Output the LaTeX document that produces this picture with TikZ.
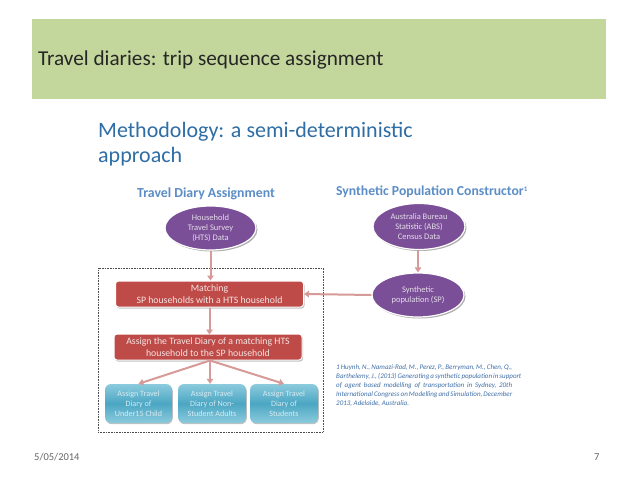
\documentclass[tikz,border=0pt]{standalone}
\usepackage{fontspec}
\setmainfont{Carlito}
\usetikzlibrary{shapes.geometric,arrows.meta,shadows}
\definecolor{hdr}{HTML}{C3D69B}
\definecolor{ttl}{HTML}{2F6EA5}
\definecolor{sub}{HTML}{5B8DC6}
\definecolor{purp}{HTML}{7B4F97}
\definecolor{redb}{HTML}{BE4B48}
\definecolor{arr}{HTML}{D69B98}
\definecolor{cite}{HTML}{3F6FA8}
\definecolor{bluemid}{HTML}{4BA6C3}
\definecolor{blueedge}{HTML}{8CCBDD}
\tikzset{
 x=1pt,y=-1pt,
 oval/.style={ellipse,draw=white,line width=1.2pt,fill=purp,text=white!80!purp,inner sep=0pt,
   minimum width=#1,font=\fontsize{8.5}{10.3}\selectfont,align=center,
   drop shadow={shadow xshift=1.5pt,shadow yshift=-1.5pt,fill=black!45,opacity=.7}},
 redbox/.style={rounded corners=3pt,draw=white,line width=1pt,fill=redb,text=white!85!redb,
   minimum width=188pt,minimum height=26pt,inner sep=0pt,align=center,font=\fontsize{9.8}{11.6}\selectfont,
   drop shadow={shadow xshift=1pt,shadow yshift=-1.5pt,fill=black!35,opacity=.7}},
 bluebox/.style={rounded corners=6pt,top color=blueedge,bottom color=blueedge,middle color=bluemid,
   minimum width=#1,minimum height=39pt,inner sep=0pt,align=center,text=white!78!bluemid,font=\fontsize{8.1}{10.2}\selectfont,
   drop shadow={shadow xshift=.8pt,shadow yshift=-1.2pt,fill=black!35,opacity=.7}},
 link/.style={draw=arr,line width=2pt,-{Triangle[length=5pt,width=6.5pt]}},
 plain/.style={inner sep=0pt,anchor=west},
 citeline/.style={inner sep=0pt,anchor=west,text=cite,font=\fontsize{7}{9}\selectfont\itshape},
}
\begin{document}
\begin{tikzpicture}
\useasboundingbox (0,0) rectangle (638,479);
\fill[white] (0,0) rectangle (638,479);
\node[fill=hdr,minimum width=574pt,minimum height=80pt,inner sep=0pt] (header) at (319,59) {};
\node[plain,font=\fontsize{21.2}{24}\selectfont,text=black!85] (title) at (38,60) {Travel diaries: trip sequence assignment};
\node[plain,text=ttl,font=\fontsize{22}{26}\selectfont] (m1) at (98,132) {Methodology: a semi-deterministic};
\node[plain,text=ttl,font=\fontsize{22}{26}\selectfont] (m2) at (98,157) {approach};
\node[plain,text=sub,font=\fontsize{13.8}{15}\selectfont\bfseries] (h1) at (137,194) {Travel Diary Assignment};
\node[plain,text=sub,font=\fontsize{13.7}{15}\selectfont\bfseries] (h2) at (336,192) {Synthetic Population Constructor\raisebox{4pt}{\fontsize{7}{8}\selectfont 1}};
\node[draw=black!70,densely dotted,line width=.6pt,minimum width=225pt,minimum height=164pt,inner sep=0pt] (frame) at (210.5,350) {};
\node[oval=91pt,minimum height=44pt] (hts) at (210.5,228) {Household\\Travel Survey\\(HTS) Data};
\node[oval=92pt,minimum height=46pt] (abs) at (419,226.5) {Australia Bureau\\Statistic (ABS)\\Census Data};
\node[oval=92pt,minimum height=44pt] (sp) at (418,295) {Synthetic\\population (SP)};
\node[redbox] (match) at (209.5,294) {Matching\\SP households with a HTS household};
\node[redbox] (assign) at (208,347) {Assign the Travel Diary of a matching HTS\\household to the SP household};
\node[bluebox=67pt] (b1) at (138.5,403.5) {Assign Travel\\Diary of\\Under15 Child};
\node[bluebox=68pt] (b2) at (212,403.5) {Assign Travel\\Diary of Non-\\Student Adults};
\node[bluebox=68pt] (b3) at (284,403.5) {Assign Travel\\Diary of\\Students};
\draw[link] (hts.south) -- (hts.south |- match.north);
\draw[link] (match.south -| assign.north) ++(1.5,0) -- ++(0,27);
\coordinate (fan) at (210,360.5);
\draw[link] (fan) -- (b1.north);
\draw[link] (fan) -- (b2.north -| fan);
\draw[link] (fan) -- (b3.north);
\draw[link] (abs.south -| sp.north) -- (sp.north);
\draw[link] (sp.west) -- (match.east);
\node[citeline] (c1) at (336,368) {\hbox to 176pt{1 Huynh, N., Namazi-Rod, M., Perez, P., Berryman, M., Chen, Q.,}};
\node[citeline] (c2) at (336,377) {\hbox to 176pt{Barthelemy, J., (2013) Generating a synthetic population in support}};
\node[citeline] (c3) at (336,386) {\hbox to 176pt{of\hfil agent\hfil based\hfil modelling\hfil of\hfil transportation\hfil in\hfil Sydney,\hfil 20th}};
\node[citeline] (c4) at (336,395) {\hbox to 176pt{International\hfil Congress\hfil on\hfil Modelling\hfil and\hfil Simulation,\hfil December}};
\node[citeline] (c5) at (336,404) {2013, Adelaide, Australia.};
\node[plain,text=black!60,font=\fontsize{10.5}{12}\selectfont] (date) at (34,457) {5/05/2014};
\node[plain,text=black!60,font=\fontsize{10.5}{12}\selectfont] (page) at (594,457) {7};
\end{tikzpicture}
\end{document}
